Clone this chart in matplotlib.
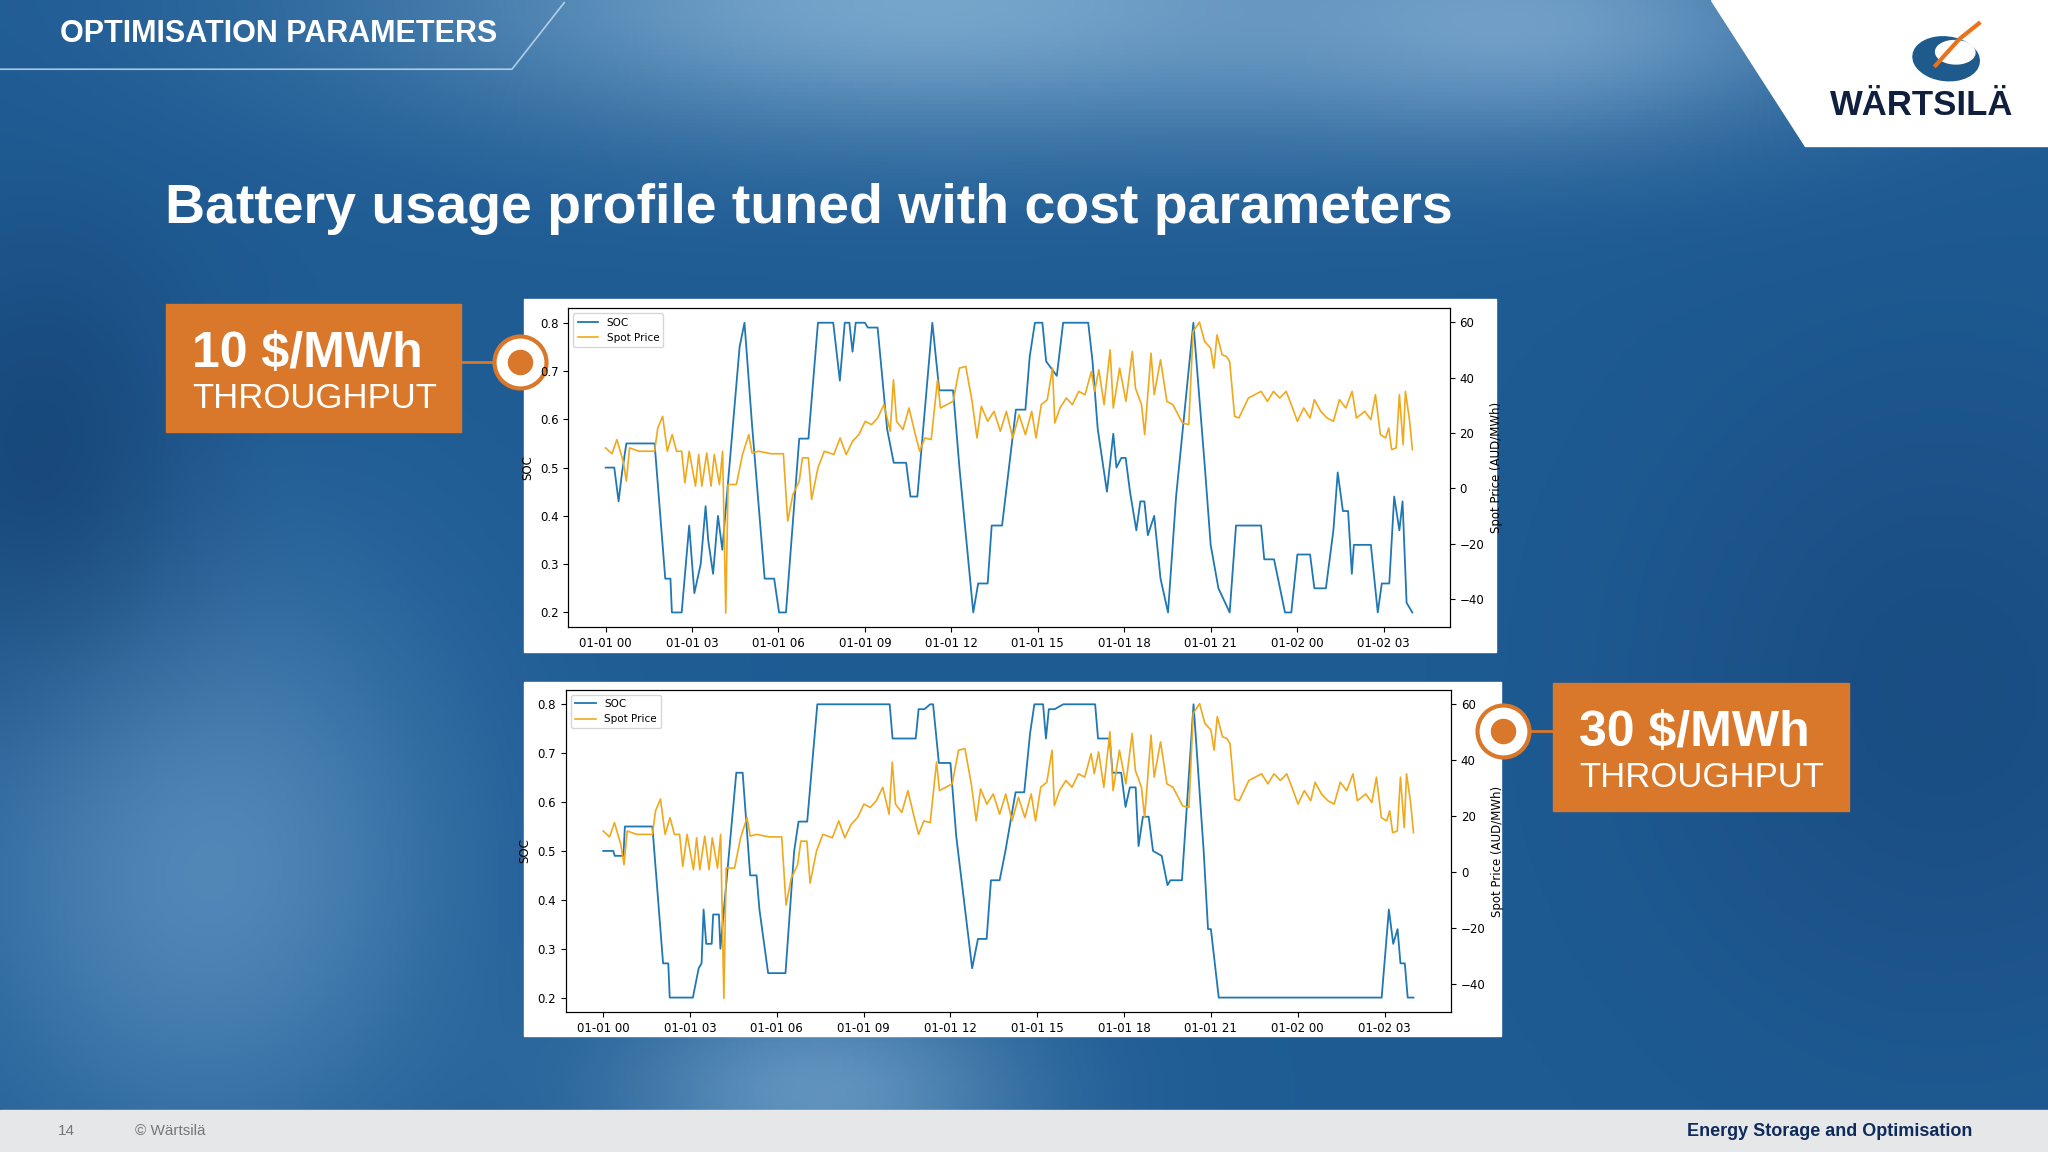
import numpy as np
import matplotlib
matplotlib.use("Agg")
import matplotlib.pyplot as plt
import matplotlib.dates as mdates
from matplotlib.patches import Polygon, Rectangle, Ellipse
import datetime as dt

plt.rcParams['font.family'] = ['Liberation Sans', 'DejaVu Sans']

# ---------------- data ----------------
soc1_hours = [0, .3, .45, .57, .72, 1.7, 2.07, 2.25, 2.3, 2.64, 2.9, 3.08, 3.3, 3.47, 3.56, 3.73, 3.9, 4.05, 4.65, 4.82,
              5.08, 5.52, 5.85, 6.02, 6.26, 6.72, 7.04, 7.37, 7.9, 8.13, 8.3, 8.46, 8.57, 8.68, 9.0, 9.1, 9.44, 9.55, 9.77, 10.0,
              10.43, 10.58, 10.82, 11.34, 11.58, 12.06, 12.28, 12.76, 12.93, 13.26, 13.4, 13.76, 14.24, 14.57, 14.72, 14.9, 15.16, 15.29, 15.66, 15.88,
              16.75, 16.9, 17.08, 17.4, 17.62, 17.73, 17.9, 18.05, 18.2, 18.42, 18.56, 18.7, 18.82, 19.04, 19.26, 19.52, 19.8, 20.4, 20.8, 21.0,
              21.27, 21.66, 21.88, 22.75, 22.86, 23.2, 23.58, 23.8, 24.01, 24.45, 24.6, 25.0, 25.26, 25.41, 25.59, 25.77, 25.9, 25.97, 26.56, 26.8,
              26.94, 27.2, 27.37, 27.55, 27.66, 27.8, 28.0]
soc1_vals = [.5, .5, .43, .49, .55, .55, .27, .27, .2, .2, .38, .24, .3, .42, .35, .28, .40, .33, .75, .8,
             .59, .27, .27, .2, .2, .56, .56, .8, .8, .68, .8, .8, .74, .8, .8, .79, .79, .72, .58, .51,
             .51, .44, .44, .8, .66, .66, .5, .2, .26, .26, .38, .38, .62, .62, .73, .8, .8, .72, .69, .8,
             .8, .72, .58, .45, .57, .5, .52, .52, .45, .37, .43, .43, .36, .4, .27, .2, .44, .8, .5, .34,
             .25, .2, .38, .38, .31, .31, .2, .2, .32, .32, .25, .25, .37, .49, .41, .41, .28, .34, .34, .2,
             .26, .26, .44, .37, .43, .22, .2]

soc2_hours = [0, .35, .4, .7, .75, 1.7, 2.07, 2.25, 2.3, 3.1, 3.3, 3.4, 3.47, 3.56, 3.75, 3.8, 4.0, 4.05, 4.6, 4.82,
              5.08, 5.3, 5.4, 5.7, 6.3, 6.6, 6.75, 7.05, 7.4, 9.9, 10.0, 10.8, 10.9, 11.1, 11.3, 11.4, 11.6, 12.0, 12.2, 12.75,
              12.95, 13.25, 13.4, 13.7, 13.9, 14.25, 14.55, 14.75, 14.9, 15.2, 15.3, 15.4, 15.6, 15.9, 17.0, 17.1, 17.5, 17.6, 17.9, 18.05,
              18.2, 18.4, 18.5, 18.65, 18.85, 19.0, 19.3, 19.5, 19.6, 20.0, 20.4, 20.75, 20.9, 21.0, 21.27, 26.9, 27.15, 27.3, 27.45, 27.55,
              27.7, 27.8, 28.0]
soc2_vals = [.5, .5, .49, .49, .55, .55, .27, .27, .2, .2, .26, .27, .38, .31, .31, .37, .37, .3, .66, .66,
             .45, .45, .38, .25, .25, .5, .56, .56, .8, .8, .73, .73, .79, .79, .8, .8, .68, .68, .53, .26,
             .32, .32, .44, .44, .5, .62, .62, .74, .8, .8, .73, .79, .79, .8, .8, .73, .73, .66, .66, .59,
             .63, .63, .51, .57, .57, .5, .49, .43, .44, .44, .8, .5, .34, .34, .2, .2, .38, .31, .34, .27,
             .27, .2, .2]

price_hours = [0, .22, .39, .61, .72, .83, 1.16, 1.7, 1.81, 1.98, 2.14, 2.31, 2.46, 2.64, 2.75, 2.9, 3.12, 3.23, 3.34, 3.51,
               3.66, 3.77, 3.95, 4.06, 4.17, 4.25, 4.54, 4.75, 4.97, 5.08, 5.3, 5.74, 6.17, 6.32, 6.5, 6.72, 6.83, 7.04, 7.15, 7.37,
               7.59, 7.92, 8.14, 8.35, 8.57, 8.79, 9.01, 9.23, 9.44, 9.66, 9.88, 9.99, 10.1, 10.32, 10.53, 10.75, 10.9, 11.08, 11.3, 11.52,
               11.62, 12.06, 12.28, 12.5, 12.72, 12.89, 13.04, 13.26, 13.48, 13.7, 13.91, 14.13, 14.35, 14.57, 14.79, 14.94, 15.12, 15.33, 15.51, 15.59,
               15.77, 15.99, 16.2, 16.42, 16.64, 16.86, 16.97, 17.12, 17.3, 17.51, 17.62, 17.84, 18.06, 18.28, 18.39, 18.6, 18.71, 18.93, 19.04, 19.26,
               19.48, 19.69, 20.02, 20.24, 20.39, 20.61, 20.79, 21.0, 21.11, 21.22, 21.4, 21.55, 21.66, 21.83, 21.98, 22.31, 22.75, 22.97, 23.18, 23.4,
               23.62, 23.8, 24.01, 24.23, 24.45, 24.6, 24.82, 25.04, 25.26, 25.47, 25.69, 25.91, 26.06, 26.35, 26.56, 26.72, 26.89, 27.07, 27.18, 27.28,
               27.44, 27.55, 27.68, 27.76, 27.9, 28.0]
price_vals = [14.6, 12.5, 17.6, 9.8, 2.6, 14.6, 13.4, 13.4, 21.8, 26, 13.4, 19.4, 13.4, 13.4, 2, 13.4, 0.8, 12.2, 0.8, 12.8,
              0.8, 12.2, 1.4, 13.4, -45, 1.4, 1.4, 12.2, 19.4, 12.8, 13.4, 12.5, 12.5, -11.8, -2.2, 2.6, 11, 11, -4, 7.4,
              13.4, 12.2, 18.2, 12.2, 17, 19.4, 24.2, 23, 25.4, 30.2, 20.6, 39.2, 24.2, 21.2, 29, 19.4, 13.4, 18.2, 17.6, 39.2,
              29, 31.4, 43.4, 44, 31.4, 18.2, 29.6, 24.2, 27.8, 20.6, 27.8, 18.2, 26.6, 19.4, 27.8, 18.2, 30.2, 32, 43.4, 23.6,
              29, 32.6, 30.2, 35, 33.8, 42.2, 35, 42.8, 30.2, 50, 29, 43.4, 31.4, 49.4, 36.2, 30.2, 19.4, 48.8, 33.8, 46.4,
              31.4, 30.2, 23.6, 23, 56.6, 60, 53, 50.6, 43.4, 55.4, 48.2, 47.6, 45.8, 26, 25.4, 32.6, 35, 31.4, 35, 32.6,
              35, 30.2, 24.2, 29, 25.4, 32, 27.8, 25.4, 24.2, 32, 29, 35, 25.4, 27.8, 24.8, 33.8, 19.4, 18.2, 21.8, 14,
              14.6, 33.8, 15.8, 35, 24.8, 14]

start = dt.datetime(2020, 1, 1)
def to_dt(hs):
    return [start + dt.timedelta(hours=h) for h in hs]

fig = plt.figure(figsize=(20.48, 11.52), dpi=100)

# ---------------- background ----------------
bg = fig.add_axes([0, 0, 1, 1])
yy, xx = np.mgrid[0:1:300j, 0:1:530j]
img = np.zeros((300, 530, 3))
img[:] = np.array([0.12, 0.36, 0.58])
def blob(cx, cy, sx, sy, col, a):
    g = a * np.exp(-(((xx - cx) / sx) ** 2 + ((yy - cy) / sy) ** 2))
    for k in range(3):
        img[:, :, k] = img[:, :, k] * (1 - g) + col[k] * g
blob(0.45, 0.0, 0.25, 0.12, (0.55, 0.72, 0.85), 0.8)
blob(0.75, 0.02, 0.15, 0.1, (0.6, 0.75, 0.88), 0.6)
blob(0.1, 0.75, 0.12, 0.25, (0.45, 0.65, 0.82), 0.6)
blob(0.4, 0.95, 0.1, 0.1, (0.55, 0.72, 0.85), 0.6)
blob(0.95, 0.6, 0.15, 0.3, (0.08, 0.25, 0.45), 0.5)
blob(0.02, 0.4, 0.08, 0.2, (0.06, 0.2, 0.38), 0.5)
img = np.clip(img, 0, 1)
bg.imshow(img, extent=[0, 1, 0, 1], aspect='auto', zorder=0)
bg.set_xlim(0, 1); bg.set_ylim(0, 1); bg.axis('off')

def fx(px): return px / 1568
def fy(py): return 1 - py / 882

# header
bg.plot([0, fx(392), fx(432)], [fy(53), fy(53), fy(2)], color=(0.8, 0.88, 0.95), lw=1.2, alpha=0.8)
bg.text(fx(46), fy(26), "OPTIMISATION PARAMETERS", color='white', fontsize=22, fontweight='bold', va='center')
# logo
bg.add_patch(Polygon([[fx(1310), 1], [1, 1], [1, fy(112)], [fx(1382), fy(112)]], closed=True, color='white', zorder=2))
bg.text(fx(1471), fy(81), "WÄRTSILÄ", color='#0f1f3d', fontsize=25, fontweight='bold', ha='center', va='center', zorder=3)
bg.add_patch(Ellipse((fx(1490), fy(45)), fx(50), 1 - fy(34), angle=15, color='#1f5a8c', zorder=3))
bg.add_patch(Ellipse((fx(1497), fy(40)), fx(30), 1 - fy(18), angle=15, color='white', zorder=3))
bg.plot([fx(1482), fx(1500), fx(1515)], [fy(50), fy(30), fy(18)], color='#e8731c', lw=3, zorder=4)
# title
bg.text(fx(126), fy(160), "Battery usage profile tuned with cost parameters", color='white', fontsize=40, fontweight='bold', va='center')
# footer
bg.add_patch(Rectangle((0, 0), 1, fy(850), color='#e6e7e9', zorder=2))
bg.text(fx(44), fy(866), "14", fontsize=11, color='#777777', va='center', zorder=3)
bg.text(fx(103), fy(866), "© Wärtsilä", fontsize=11, color='#777777', va='center', zorder=3)
bg.text(fx(1510), fy(866), "Energy Storage and Optimisation", fontsize=13, color='#0f2b5a', fontweight='bold', ha='right', va='center', zorder=3)

# panels
for (x0, y0, x1, y1) in [(401, 229, 1145, 499), (401, 522, 1149, 793)]:
    bg.add_patch(Rectangle((fx(x0), fy(y1)), fx(x1) - fx(x0), fy(y0) - fy(y1), color='white', zorder=2))

orange = '#d9782a'
for (x0, y0, x1, y1, txt) in [(127, 233, 353, 331, "10 $/MWh"), (1189, 523, 1416, 621, "30 $/MWh")]:
    bg.add_patch(Rectangle((fx(x0), fy(y1)), fx(x1) - fx(x0), fy(y0) - fy(y1), color=orange, zorder=2))
    bg.text(fx(x0 + 20), fy(y0 + 38), txt, color='white', fontsize=36, fontweight='bold', va='center', zorder=3)
    bg.text(fx(x0 + 20), fy(y0 + 72), "THROUGHPUT", color='white', fontsize=25, va='center', zorder=3)
bg.plot([fx(353), fx(398)], [fy(277), fy(277)], color=orange, lw=2, zorder=3)
bg.plot([fx(1151), fx(1189)], [fy(560), fy(560)], color=orange, lw=2, zorder=3)
for (cx, cy) in [(398, 277), (1151, 560)]:
    bg.scatter([fx(cx)], [fy(cy)], s=1400, facecolor='white', edgecolor=orange, linewidth=3, zorder=4)
    bg.scatter([fx(cx)], [fy(cy)], s=300, color=orange, zorder=5)

# ---------------- charts ----------------
soc_col = '#1f77b4'
pr_col = '#f0a81c'
axes_rects = [[fx(435), fy(480), fx(1110) - fx(435), fy(236) - fy(480)],
              [fx(433), fy(775), fx(1111) - fx(433), fy(528) - fy(775)]]
for rect, (sh, sv) in zip(axes_rects, [(soc1_hours, soc1_vals), (soc2_hours, soc2_vals)]):
    ax = fig.add_axes(rect, zorder=5)
    l1, = ax.plot(to_dt(sh), sv, color=soc_col, lw=1.3, label='SOC')
    ax.set_ylim(0.17, 0.83)
    ax.set_yticks([0.2, 0.3, 0.4, 0.5, 0.6, 0.7, 0.8])
    ax.set_ylabel('SOC', fontsize=8.5, family='DejaVu Sans')
    ax2 = ax.twinx()
    l2, = ax2.plot(to_dt(price_hours), price_vals, color=pr_col, lw=1.2, label='Spot Price')
    ax2.set_ylim(-50, 65)
    ax2.set_yticks([-40, -20, 0, 20, 40, 60])
    ax2.set_ylabel('Spot Price (AUD/MWh)', fontsize=8.5, family='DejaVu Sans')
    ax.set_xlim(start - dt.timedelta(hours=1.3), start + dt.timedelta(hours=29.3))
    ax.xaxis.set_major_locator(mdates.HourLocator(byhour=[0, 3, 6, 9, 12, 15, 18, 21]))
    ax.xaxis.set_major_formatter(mdates.DateFormatter('%m-%d %H'))
    for a in (ax, ax2):
        a.tick_params(labelsize=8.5)
        for lab in a.get_xticklabels() + a.get_yticklabels():
            lab.set_family('DejaVu Sans')
    ax.legend([l1, l2], ['SOC', 'Spot Price'], loc='upper left', prop={'family': 'DejaVu Sans', 'size': 7.5})

fig.savefig('out.png', dpi=100)
